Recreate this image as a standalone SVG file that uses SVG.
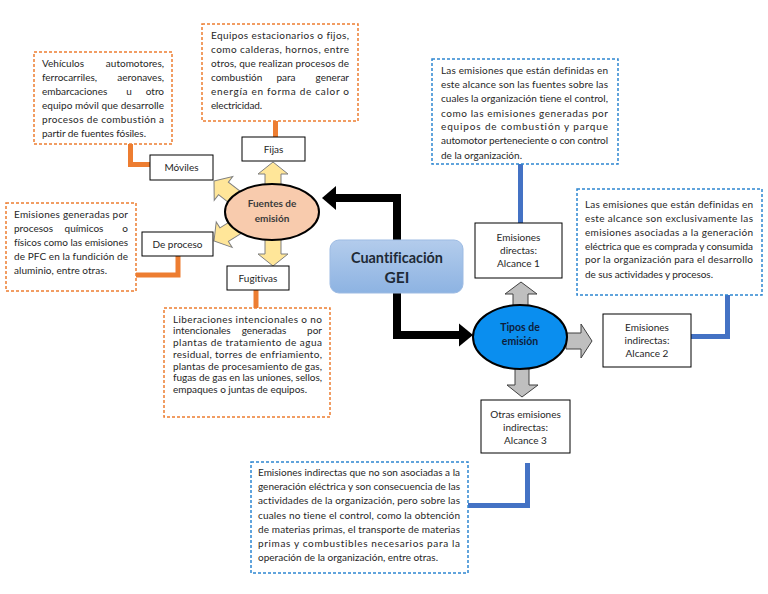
<svg xmlns="http://www.w3.org/2000/svg" width="768" height="594" viewBox="0 0 768 594">
<defs>
<linearGradient id="gBlue" x1="0" y1="0" x2="0" y2="1">
<stop offset="0" stop-color="#B3CCEC"/>
<stop offset="1" stop-color="#8DB3E2"/>
</linearGradient>
<style>
.t{font-family:Lato,"Liberation Sans",sans-serif;font-size:10px;fill:#262626;font-variant-ligatures:none}
.c{text-anchor:middle}
.e{text-anchor:end}
.od{fill:#fff;stroke:#ED7D31;stroke-width:1.5;stroke-dasharray:3 2}
.bd{fill:#fff;stroke:#2E86D1;stroke-width:1.5;stroke-dasharray:3 2}
.bx{fill:#fff;stroke:#000;stroke-width:1}
.oc{fill:none;stroke:#ED7D31;stroke-width:5}
.bc{fill:none;stroke:#4472C4;stroke-width:5}
.ya{fill:#FFE699;stroke:#7F7F7F;stroke-width:1}
.ga{fill:#BFBFBF;stroke:#404040;stroke-width:1}
.bk{fill:none;stroke:#000;stroke-width:8}
</style>
</defs>
<rect width="768" height="594" fill="#fff"/>

<g id="connectors">
<path class="oc" d="M130.5,144 V164.5 H150"/>
<path class="oc" d="M275.5,121 V137"/>
<path class="oc" d="M178,256 V275 H136"/>
<path class="oc" d="M256,290 V308"/>
<path class="bc" d="M520.5,164 V223"/>
<path class="bc" d="M727.5,295 V336.5 H691"/>
<path class="bc" d="M527.5,463 V505.5 H468"/>
<path class="bk" d="M397,240 V198 H334"/>
<polygon points="322,198 336,186 336,210" fill="#000"/>
<path class="bk" d="M397,293 V335 H461"/>
<polygon points="473,335 459,323.5 459,346.5" fill="#000"/>
<polygon class="ya" points="273,162 288,174 281,174 281,188 265,188 265,174 258,174"/>
<polygon class="ya" points="273,266 288,254 281,254 281,238 265,238 265,254 258,254"/>
<polygon class="ya" transform="translate(214,181) rotate(38)" points="0,0 12,-15 12,-8 30,-8 30,8 12,8 12,15"/>
<polygon class="ya" transform="translate(214,241) rotate(-32)" points="0,0 12,-15 12,-8 30,-8 30,8 12,8 12,15"/>
<polygon class="ga" points="521,282 537,294 528,294 528,307 513,307 513,294 505,294"/>
<polygon class="ga" points="592,341 581,324 581,333 566,333 566,349 581,349 581,358"/>
<polygon class="ga" points="522,397 538,385 529,385 529,367 515,367 515,385 507,385"/>
</g>

<g id="cuantificacion">
<rect x="330" y="240" width="133" height="53" rx="9" fill="url(#gBlue)" stroke="#9DBBE3" stroke-width="1"/>
<text class="t c" x="397" y="262.5" style="font-size:15.5px;font-weight:bold;fill:#1E2A36" textLength="92" lengthAdjust="spacingAndGlyphs">Cuantificación</text>
<text class="t c" x="397" y="282.5" style="font-size:15.5px;font-weight:bold;fill:#1E2A36">GEI</text>
</g>

<g id="fuentes">
<ellipse cx="272" cy="212" rx="47" ry="28" fill="#F8CBAD" stroke="#000" stroke-width="2"/>
<text class="t c" x="272" y="206.5" style="font-weight:bold;fill:#3A3A3A">Fuentes de</text>
<text class="t c" x="272" y="221.5" style="font-weight:bold;fill:#3A3A3A">emisión</text>
</g>

<g id="tipos">
<ellipse cx="520" cy="337" rx="47" ry="32" fill="#0A8EEF" stroke="#000" stroke-width="2"/>
<text class="t c" x="520" y="331" style="font-size:10.5px;font-weight:bold;fill:#0E1E3C">Tipos de</text>
<text class="t c" x="520" y="345" style="font-size:10.5px;font-weight:bold;fill:#0E1E3C">emisión</text>
</g>

<g id="moviles">
<rect class="bx" x="150" y="155" width="63" height="25"/>
<text class="t c" x="181.5" y="171">Móviles</text>
</g>
<g id="fijas">
<rect class="bx" x="242" y="137" width="63" height="24"/>
<text class="t c" x="273.5" y="152.5">Fijas</text>
</g>
<g id="deproceso">
<rect class="bx" x="142" y="232" width="71" height="24"/>
<text class="t c" x="177.5" y="247.5">De proceso</text>
</g>
<g id="fugitivas">
<rect class="bx" x="227" y="266" width="62" height="24"/>
<text class="t c" x="258" y="281.5">Fugitivas</text>
</g>

<g id="alcance1">
<rect class="bx" x="475" y="223" width="87" height="55"/>
<text class="t c" x="518.5" y="240.5">Emisiones</text>
<text class="t c" x="518.5" y="253.5">directas:</text>
<text class="t c" x="518.5" y="266.5">Alcance 1</text>
</g>
<g id="alcance2">
<rect class="bx" x="603" y="314" width="88" height="53"/>
<text class="t c" x="647" y="330.5">Emisiones</text>
<text class="t c" x="647" y="343.5">indirectas:</text>
<text class="t c" x="647" y="356.5">Alcance 2</text>
</g>
<g id="alcance3">
<rect class="bx" x="481" y="400" width="89" height="53"/>
<text class="t c" x="525.5" y="417.5">Otras emisiones</text>
<text class="t c" x="525.5" y="430.5">indirectas:</text>
<text class="t c" x="525.5" y="443.5">Alcance 3</text>
</g>

<g id="desc-moviles">
<rect class="od" x="34" y="52" width="138" height="92"/>
<text class="t" x="42" y="66.5">Vehículos</text><text class="t e" x="164" y="66.5">automotores,</text>
<text class="t" x="42" y="80.5">ferrocarriles,</text><text class="t e" x="164" y="80.5">aeronaves,</text>
<text class="t" x="42" y="94.5">embarcaciones</text><text class="t c" x="129" y="94.5">u</text><text class="t e" x="164" y="94.5">otro</text>
<text class="t" x="42" y="108.5" textLength="122" lengthAdjust="spacing">equipo móvil que desarrolle</text>
<text class="t" x="42" y="122.5" textLength="122" lengthAdjust="spacing">procesos de combustión a</text>
<text class="t" x="42" y="136.5" textLength="104" lengthAdjust="spacing">partir de fuentes fósiles.</text>
</g>

<g id="desc-fijas">
<rect class="od" x="202" y="24" width="156" height="97"/>
<text class="t" x="211" y="38.5" textLength="138" lengthAdjust="spacing">Equipos estacionarios o fijos,</text>
<text class="t" x="211" y="52.5" textLength="138" lengthAdjust="spacing">como calderas, hornos, entre</text>
<text class="t" x="211" y="66.5" textLength="138" lengthAdjust="spacing">otros, que realizan procesos de</text>
<text class="t" x="211" y="80.5">combustión</text><text class="t c" x="286" y="80.5">para</text><text class="t e" x="349" y="80.5">generar</text>
<text class="t" x="211" y="94.5" textLength="138" lengthAdjust="spacing">energía en forma de calor o</text>
<text class="t" x="211" y="108.5" textLength="51" lengthAdjust="spacing">electricidad.</text>
</g>

<g id="desc-proceso">
<rect class="od" x="6" y="203" width="130" height="88"/>
<text class="t" x="14" y="217.5" textLength="114" lengthAdjust="spacing">Emisiones generadas por</text>
<text class="t" x="14" y="231.5">procesos</text><text class="t c" x="84" y="231.5">químicos</text><text class="t e" x="128" y="231.5">o</text>
<text class="t" x="14" y="245.5" textLength="114" lengthAdjust="spacing">físicos como las emisiones</text>
<text class="t" x="14" y="259.5" textLength="114" lengthAdjust="spacing">de PFC en la fundición de</text>
<text class="t" x="14" y="273.5" textLength="93" lengthAdjust="spacing">aluminio, entre otras.</text>
</g>

<g id="desc-fugitivas">
<rect class="od" x="164" y="308" width="166" height="109"/>
<text class="t" x="173" y="322.5" textLength="149" lengthAdjust="spacing">Liberaciones intencionales o no</text>
<text class="t" x="173" y="334.3">intencionales</text><text class="t c" x="264" y="334.3">generadas</text><text class="t e" x="322" y="334.3">por</text>
<text class="t" x="173" y="346" textLength="149" lengthAdjust="spacing">plantas de tratamiento de agua</text>
<text class="t" x="173" y="357.8" textLength="149" lengthAdjust="spacing">residual, torres de enfriamiento,</text>
<text class="t" x="173" y="369.5" textLength="149" lengthAdjust="spacing">plantas de procesamiento de gas,</text>
<text class="t" x="173" y="381.3" textLength="149" lengthAdjust="spacing">fugas de gas en las uniones, sellos,</text>
<text class="t" x="173" y="393" textLength="134" lengthAdjust="spacing">empaques o juntas de equipos.</text>
</g>

<g id="desc-alcance1">
<rect class="bd" x="432" y="59" width="186" height="105"/>
<text class="t" x="441" y="74.2" textLength="167" lengthAdjust="spacing">Las emisiones que están definidas en</text>
<text class="t" x="441" y="88.2" textLength="167" lengthAdjust="spacing">este alcance son las fuentes sobre las</text>
<text class="t" x="441" y="102.2" textLength="167" lengthAdjust="spacing">cuales la organización tiene el control,</text>
<text class="t" x="441" y="116.5" textLength="167" lengthAdjust="spacing">como las emisiones generadas por</text>
<text class="t" x="441" y="130.2" textLength="167" lengthAdjust="spacing">equipos de combustión y parque</text>
<text class="t" x="441" y="144.2" textLength="167" lengthAdjust="spacing">automotor perteneciente o con control</text>
<text class="t" x="441" y="158.5" textLength="81" lengthAdjust="spacing">de la organización.</text>
</g>

<g id="desc-alcance2">
<rect class="bd" x="577" y="189" width="185" height="106"/>
<text class="t" x="585" y="207.5" textLength="168" lengthAdjust="spacing">Las emisiones que están definidas en</text>
<text class="t" x="585" y="221.5" textLength="168" lengthAdjust="spacing">este alcance son exclusivamente las</text>
<text class="t" x="585" y="235.5" textLength="168" lengthAdjust="spacing">emisiones asociadas a la generación</text>
<text class="t" x="585" y="249.5" textLength="168" lengthAdjust="spacing">eléctrica que es comprada y consumida</text>
<text class="t" x="585" y="262.5" textLength="168" lengthAdjust="spacing">por la organización para el desarrollo</text>
<text class="t" x="585" y="277.5" textLength="128" lengthAdjust="spacing">de sus actividades y procesos.</text>
</g>

<g id="desc-alcance3">
<rect class="bd" x="251" y="462" width="217" height="111"/>
<text class="t" x="258" y="475.5" textLength="202" lengthAdjust="spacing">Emisiones indirectas que no son asociadas a la</text>
<text class="t" x="258" y="489.5" textLength="202" lengthAdjust="spacing">generación eléctrica y son consecuencia de las</text>
<text class="t" x="258" y="504" textLength="202" lengthAdjust="spacing">actividades de la organización, pero sobre las</text>
<text class="t" x="258" y="518.5" textLength="202" lengthAdjust="spacing">cuales no tiene el control, como la obtención</text>
<text class="t" x="258" y="532.5" textLength="202" lengthAdjust="spacing">de materias primas, el transporte de materias</text>
<text class="t" x="258" y="546.5" textLength="202" lengthAdjust="spacing">primas y combustibles necesarios para la</text>
<text class="t" x="258" y="560.5" textLength="180" lengthAdjust="spacing">operación de la organización, entre otras.</text>
</g>
</svg>
